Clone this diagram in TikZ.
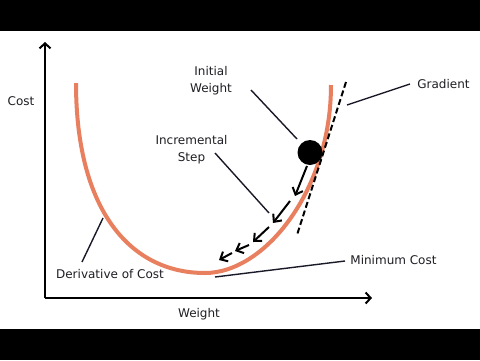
\documentclass[tikz,border=0pt]{standalone}
\usepackage{fontspec}
\setmainfont{DejaVu Sans}
\usetikzlibrary{arrows.meta}
\definecolor{curvec}{RGB}{232,128,96}
\definecolor{txt}{RGB}{30,30,36}
\definecolor{leadc}{RGB}{25,25,40}
\begin{document}
\begin{tikzpicture}[x=1pt,y=-1pt,
  lbl/.style={font=\fontsize{12}{17}\selectfont, text=txt, inner sep=0pt, align=center},
  leader/.style={draw=leadc, line width=1.4pt},
  axis/.style={draw=black, line width=2.4pt, -{Straight Barb[length=5pt,width=11pt,line width=2pt]}},
  stepar/.style={draw=black, line width=2pt, -{Straight Barb[length=6pt,width=11pt,line width=2pt]}},
  costcurve/.style={draw=curvec, line width=4pt}]
\fill[black] (0,0) rectangle (480,360);
\fill[white] (0,31) rectangle (480,329);
\useasboundingbox (0,0) rectangle (480,360);
% axes
\coordinate (O) at (45,298);
\coordinate (ytop) at (45,42);
\coordinate (xend) at (372,298);
\draw[axis] (O) -- (ytop);
\draw[axis] (O) -- (xend);
% cost curve
\coordinate (c0) at (76,83);
\coordinate (cm) at (205,273);
\coordinate (c1) at (331,85);
\draw[costcurve] (c0) .. controls (76,210) and (130,273) .. (cm)
  .. controls (265,273) and (331,190) .. (c1);
% tangent
\coordinate (g1) at (346,82);
\coordinate (g2) at (297,235);
\draw[black, line width=2pt, dash pattern=on 6pt off 3pt] (g1) -- (g2);
% ball
\node[circle, fill=black, minimum size=25pt, inner sep=0pt] (ball) at (310,152.5) {};
% step arrows
\coordinate (s0) at (307,166);
\coordinate (s1) at (295,196);
\coordinate (s2) at (290,201);
\coordinate (s3) at (273,223);
\coordinate (s4) at (269,227);
\coordinate (s5) at (253,242);
\coordinate (s6) at (249,245);
\coordinate (s7) at (235,251);
\coordinate (s8) at (232,253);
\coordinate (s9) at (219,260);
\draw[stepar] (s0) -- (s1);
\draw[stepar] (s2) -- (s3);
\draw[stepar] (s4) -- (s5);
\draw[stepar] (s6) -- (s7);
\draw[stepar] (s8) -- (s9);
% labels
\node[lbl] (cost) at (21,101) {Cost};
\node[lbl] (weight) at (199,314) {Weight};
\node[lbl] (deriv) at (110,274) {Derivative of Cost};
\node[lbl] (init) at (211,80.5) {Initial\\Weight};
\node[lbl] (incr) at (191.5,150) {Incremental\\Step};
\node[lbl] (grad) at (443.5,84) {Gradient};
\node[lbl] (mincost) at (393.5,260) {Minimum Cost};
% leaders
\coordinate (i1) at (251,90); \coordinate (i2) at (297,139);
\draw[leader] (i1) -- (i2);
\coordinate (n1) at (215,153); \coordinate (n2) at (269,213);
\draw[leader] (n1) -- (n2);
\coordinate (r1) at (347,105); \coordinate (r2) at (410,84);
\draw[leader] (r1) -- (r2);
\coordinate (m1) at (215,277); \coordinate (m2) at (345,261);
\draw[leader] (m1) -- (m2);
\coordinate (d1) at (103,218); \coordinate (d2) at (82,262);
\draw[leader] (d1) -- (d2);
\end{tikzpicture}
\end{document}
